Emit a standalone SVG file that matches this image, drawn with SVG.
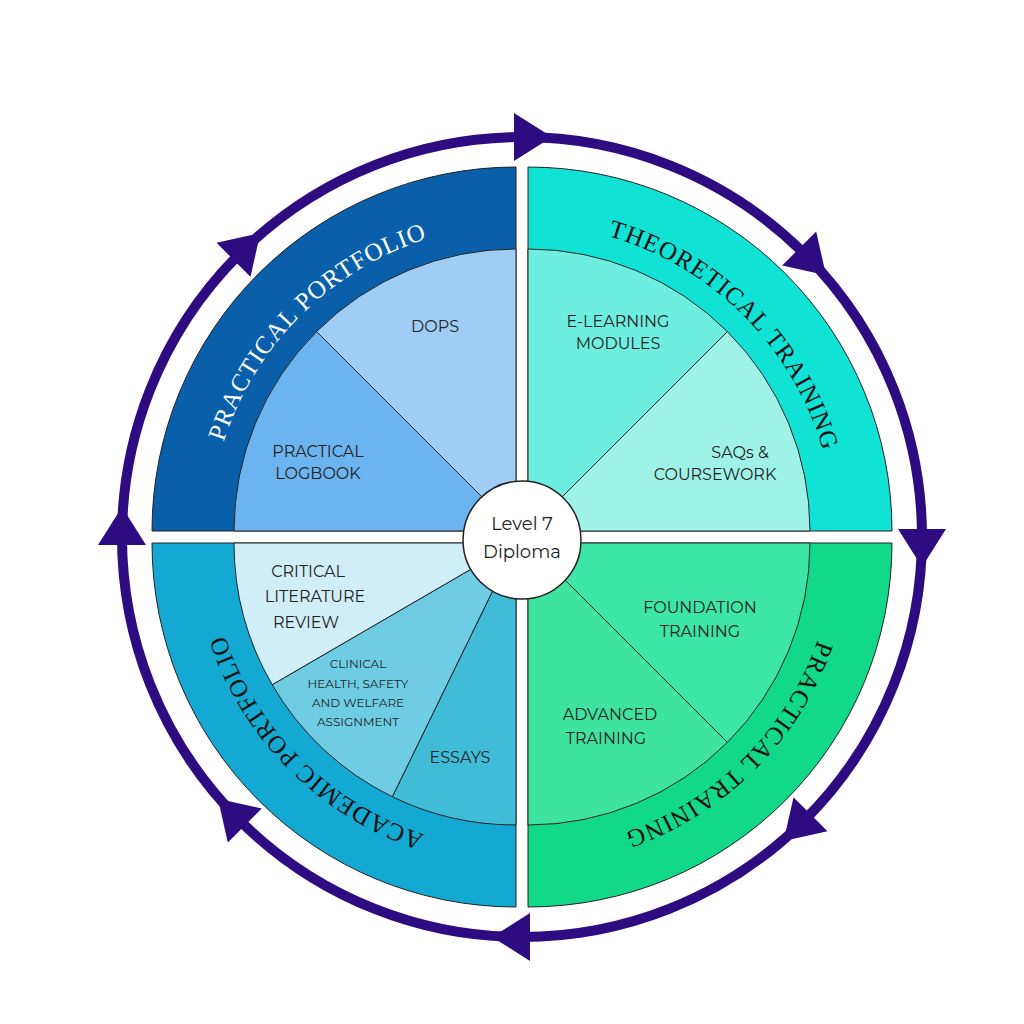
<svg xmlns="http://www.w3.org/2000/svg" width="1024" height="1024" viewBox="0 0 1024 1024">
<style>
.sec{stroke:#222;stroke-width:1}
.lbl{font-family:Montserrat,"Open Sans","Liberation Sans",sans-serif;font-size:16px;fill:#222;text-anchor:middle}
.sm{font-size:12px}
.arc{font-family:"Liberation Serif",serif;font-size:25px;letter-spacing:1px}
.arr{fill:#2c0c80}
</style>
<defs>
<path id="circ" d="M522,224 A313 313 0 1 1 522,850 A313 313 0 1 1 522,224"/>
</defs>
<rect width="1024" height="1024" fill="#fff"/>
<g id="ring">
<circle cx="522" cy="537" r="400" fill="none" stroke="#2c0c80" stroke-width="10"/>
<g transform="translate(522,537)">
<path class="arr" d="M-8,-424 L30,-400 L-8,-376 Z" transform="rotate(0)"/>
<path class="arr" d="M-8,-424 L30,-400 L-8,-376 Z" transform="rotate(45)"/>
<path class="arr" d="M-8,-424 L30,-400 L-8,-376 Z" transform="rotate(90)"/>
<path class="arr" d="M-8,-424 L30,-400 L-8,-376 Z" transform="rotate(135)"/>
<path class="arr" d="M-8,-424 L30,-400 L-8,-376 Z" transform="rotate(180)"/>
<path class="arr" d="M-8,-424 L30,-400 L-8,-376 Z" transform="rotate(225)"/>
<path class="arr" d="M-8,-424 L30,-400 L-8,-376 Z" transform="rotate(270)"/>
<path class="arr" d="M-8,-424 L30,-400 L-8,-376 Z" transform="rotate(315)"/>
</g>
</g>
<g id="practical-portfolio">
<path d="M516,531 L516,167 A364 364 0 0 0 152,531 Z" fill="#0a5faa" class="sec"/>
<path d="M516,531 L516,249 A282 282 0 0 0 316.6,331.6 Z" fill="#a0cdf5" class="sec"/>
<path d="M516,531 L316.6,331.6 A282 282 0 0 0 234,531 Z" fill="#6cb4f0" class="sec"/>
<text class="lbl" x="435" y="332">DOPS</text>
<text class="lbl" x="318" y="457">PRACTICAL</text>
<text class="lbl" x="318" y="479">LOGBOOK</text>
</g>
<g id="theoretical-training">
<path d="M528,531 L528,167 A364 364 0 0 1 892,531 Z" fill="#10e3d6" class="sec"/>
<path d="M528,531 L528,249 A282 282 0 0 1 727.4,331.6 Z" fill="#6eeee0" class="sec"/>
<path d="M528,531 L727.4,331.6 A282 282 0 0 1 810,531 Z" fill="#9ef3e6" class="sec"/>
<text class="lbl" x="618" y="327">E-LEARNING</text>
<text class="lbl" x="618" y="349">MODULES</text>
<text class="lbl" x="740" y="458">SAQs &amp;</text>
<text class="lbl" x="715" y="480">COURSEWORK</text>
</g>
<g id="practical-training">
<path d="M528,543 L892,543 A364 364 0 0 1 528,907 Z" fill="#12d98a" class="sec"/>
<path d="M528,543 L810,543 A282 282 0 0 1 727.4,742.4 Z" fill="#3de6a6" class="sec"/>
<path d="M528,543 L727.4,742.4 A282 282 0 0 1 528,825 Z" fill="#3fe3a0" class="sec"/>
<text class="lbl" x="700" y="613">FOUNDATION</text>
<text class="lbl" x="700" y="637">TRAINING</text>
<text class="lbl" x="610" y="720">ADVANCED</text>
<text class="lbl" x="606" y="744">TRAINING</text>
</g>
<g id="academic-portfolio">
<path d="M516,543 L516,907 A364 364 0 0 1 152,543 Z" fill="#14a9d2" class="sec"/>
<path d="M516,543 L516,825 A282 282 0 0 1 392.3,796.8 Z" fill="#40bcd9" class="sec"/>
<path d="M516,543 L392.3,796.8 A282 282 0 0 1 272.2,684.7 Z" fill="#6ecde3" class="sec"/>
<path d="M516,543 L272.2,684.7 A282 282 0 0 1 234,543 Z" fill="#d0eef8" class="sec"/>
<text class="lbl" x="308" y="577">CRITICAL</text>
<text class="lbl" x="315" y="602">LITERATURE</text>
<text class="lbl" x="306" y="628">REVIEW</text>
<text class="lbl sm" x="358" y="668">CLINICAL</text>
<text class="lbl sm" x="358" y="688">HEALTH, SAFETY</text>
<text class="lbl sm" x="358" y="707">AND WELFARE</text>
<text class="lbl sm" x="358" y="726">ASSIGNMENT</text>
<text class="lbl" x="460" y="763">ESSAYS</text>
</g>
<g id="band-labels">
<text class="arc" fill="#fff"><textPath href="#circ" startOffset="1721" text-anchor="middle">PRACTICAL PORTFOLIO</textPath></text>
<text class="arc" fill="#111"><textPath href="#circ" startOffset="246" text-anchor="middle">THEORETICAL TRAINING</textPath></text>
<text class="arc" fill="#111"><textPath href="#circ" startOffset="738" text-anchor="middle">PRACTICAL TRAINING</textPath></text>
<text class="arc" fill="#111"><textPath href="#circ" startOffset="1229" text-anchor="middle">ACADEMIC PORTFOLIO</textPath></text>
</g>
<g id="center">
<circle cx="522" cy="540" r="59" fill="#fff" stroke="#222" stroke-width="1.5"/>
<text class="lbl" x="522" y="530" style="font-size:18px">Level 7</text>
<text class="lbl" x="522" y="558" style="font-size:18px">Diploma</text>
</g>
</svg>
